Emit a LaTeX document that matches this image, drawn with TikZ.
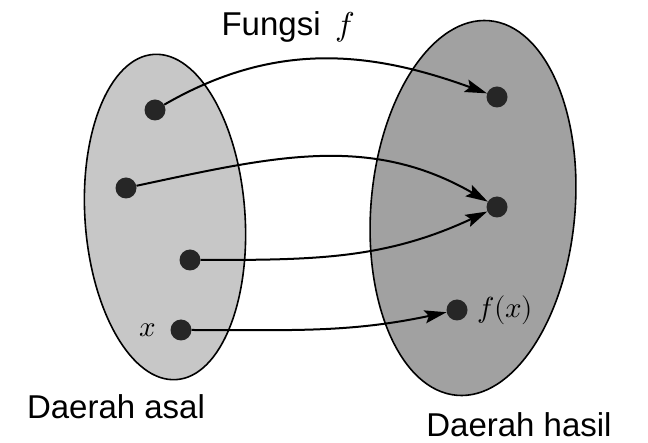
\documentclass[tikz,border=0pt]{standalone}
\usepackage{fontspec}
\setmainfont{Liberation Sans}
\usepackage{unicode-math}
\usetikzlibrary{positioning,arrows.meta}

\tikzset{
  titik/.style={circle, fill=black!85, inner sep=0pt, minimum size=21pt},
  panah/.style={-{Stealth[length=22pt, width=13pt, inset=4pt]}, line width=2pt},
  teks/.style={font=\fontsize{33}{38}\selectfont},
  simbol/.style={font=\fontsize{29}{32}\selectfont}
}

\begin{document}
\begin{tikzpicture}[x=1pt, y=1pt]
            \useasboundingbox (0,0) rectangle (648,-443);

            % daerah asal dan daerah hasil
            \draw [line width=1.6pt, fill=black!22, rotate around={4:(165,-217)}] (165,-217) ellipse (80pt and 163pt);
            \draw [line width=1.6pt, fill=black!37, rotate around={-5:(473,-208)}] (473,-208) ellipse (102pt and 188pt);

            \node [titik] (a1) at (155,-110) {};
            \node [titik] (a2) at (126,-188) {};
            \node [titik] (a3) at (190,-260) {};
            \node [titik] (a4) at (181,-330) {};
            \node [titik] (b1) at (497,-97) {};
            \node [titik] (b2) at (497,-207) {};
            \node [titik] (b3) at (457,-310) {};

            \node [simbol, left=11pt of a4] (lx) {$x$};
            \node [simbol, right=6pt of b3] (lfx) {$f(x)$};

            \draw [panah] (a1) to [out=30, in=160] (b1);
            \draw [panah] (a2) to [out=12, in=150] (b2);
            \draw [panah] (a3) to [out=0, in=205] (b2);
            \draw [panah] (a4) to [out=0, in=192] (b3);

            \node [teks, anchor=base] (judul) at (288,-36) {Fungsi \,$f$};
            \node [teks, anchor=base] (asal) at (116,-419) {Daerah asal};
            \node [teks, anchor=base] (hasil) at (519,-436) {Daerah hasil};
        \end{tikzpicture}
\end{document}
